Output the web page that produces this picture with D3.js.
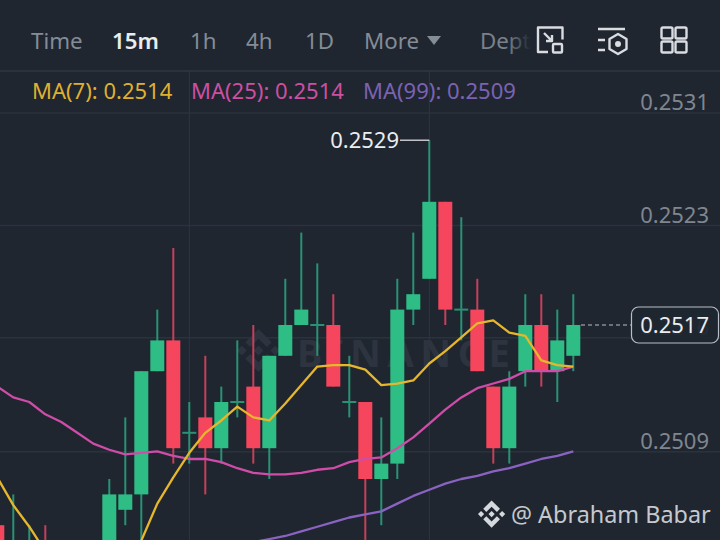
<!DOCTYPE html>
<html>
<head>
<meta charset="utf-8">
<script src="https://cdn.jsdelivr.net/npm/d3@7"></script>
<style>
  html, body { margin: 0; padding: 0; background: #1f2630; }
  svg { display: block; font-family: "Noto Sans", sans-serif; }
</style>
</head>
<body>
<svg id="chart" width="720" height="540"></svg>
<script>
// candles, oldest first; null = off the bottom of the picture
var opens  = [.2504,.2501,.2501,.2502,null,null,null,.2502,.2505,.2506,.2514,.2516,.2510,.2511,.2509,.2512,.2513,.2509,.2515,.2517,.2517,.2517,.2512,.2512,.2507,.2508,.2518,.2520,.2525,.2518,.2518,.2513,.2509,.2514,.2517,.2514,.2515];
var closes = [.2501,.2502,.2502,.2501,null,null,null,.2506,.2506,.2514,.2516,.2509,.2510,.2509,.2512,.2512,.2509,.2515,.2517,.2518,.2517,.2513,.2512,.2507,.2508,.2518,.2519,.2525,.2518,.2518,.2514,.2509,.2513,.2517,.2514,.2516,.2517];
var highs  = [.2504,.2506,.2504,.2504,null,null,null,.2507,.2511,.2514,.2518,.2522,.2512,.2515,.2513,.2516,.2517,.2515,.2520,.2523,.2521,.2519,.2515,.2512,.2511,.2520,.2523,.2529,.2525,.2524,.2520,.2513,.2514,.2519,.2519,.2518,.2519];
var lows   = [.2500,.2500,.2500,.2500,null,null,null,.2500,.2504,.2502,.2514,.2508,.2508,.2506,.2508,.2511,.2508,.2507,.2515,.2517,.2515,.2513,.2511,.2502,.2504,.2507,.2517,.2520,.2517,.2516,.2514,.2508,.2508,.2513,.2513,.2512,.2514];

var ma7  = [.25071,.25053,.25039,.25023,null,null,null,null,.25008,.25030,.25054,.25071,.25087,.25100,.25108,.25117,.25110,.25108,.25119,.25131,.25143,.25144,.25144,.25141,.25131,.25132,.25134,.25145,.25153,.25162,.25171,.25173,.25165,.25163,.25147,.25144,.25143];
var ma25 = [.25130,.25123,.25120,.25112,.25107,.25100,.25093,.25089,.25086,.25087,.25088,.25085,.25083,.25083,.25081,.25077,.25074,.25073,.25073,.25074,.25076,.25077,.25081,.25083,.25084,.25090,.25097,.25106,.25115,.25123,.25129,.25132,.25135,.25140,.25140,.25140,.25143];
var ma99 = [null,null,null,null,null,null,null,null,null,null,null,null,null,null,null,null,.25029,.25031,.25033,.25036,.25039,.25042,.25045,.25047,.25049,.25054,.25059,.25063,.25067,.25070,.25072,.25075,.25077,.25080,.25083,.25085,.25088];

var gridPrices = [.25308,.25235,.25162,.25088];
var gridLabels = ["0.2531","0.2523","0.2516","0.2509"];
var gridCandles = [12,27];
var lastPrice = .2517, maxPrice = .2529, maxIndex = 27;

var tabs = ["Time","15m","1h","4h","1D","More","Dept"];
var legend = [["MA(7): 0.2514","#dfb02f"],["MA(25): 0.2514","#cd4fa2"],["MA(99): 0.2509","#7c62b3"]];

var BG = "#1f2630", GREEN = "#2ebd85", RED = "#f6465d", LOGO = "M38.73 53.2l24.59-24.58 24.6 24.6 14.3-14.31L63.32 0 24.42 38.9zM0 63.31l14.3-14.31 14.31 14.31-14.31 14.3zM38.73 73.41l24.59 24.59 24.6-24.6 14.31 14.29-38.9 38.91-38.91-38.88-.02-.02zM98.01 63.31l14.3-14.31 14.3 14.3-14.3 14.32zM77.83 63.3L63.32 48.78 52.59 59.51l-1.24 1.23-2.54 2.54 14.51 14.5 14.51-14.47z";

var svg = d3.select("#chart");
var x = d3.scaleLinear().domain([0, 36]).range([-2.7, 573.3]);
var y = d3.scaleLinear().domain([.2503, .2529]).range([540.6, 140.2]);

// header
svg.append("line").attr("x1", 0).attr("x2", 720).attr("y1", 71).attr("y2", 71).attr("stroke", "#2b323d").attr("stroke-width", 2);
var defs = svg.append("defs");
var fade = defs.append("linearGradient").attr("id", "fade");
fade.append("stop").attr("offset", "55%").attr("stop-color", "#7a818a");
fade.append("stop").attr("offset", "100%").attr("stop-color", "#7a818a").attr("stop-opacity", 0);
var tabX = [31, 112, 190, 246, 305, 364, 480];
svg.selectAll("text.tab").data(tabs).enter().append("text").attr("class", "tab")
  .attr("x", function (d, i) { return tabX[i]; }).attr("y", 49).attr("font-size", 22.3)
  .attr("font-weight", function (d) { return d === "15m" ? 600 : 400; })
  .attr("fill", function (d) { return d === "15m" ? "#eaecef" : d === "Dept" ? "url(#fade)" : "#848c95"; })
  .text(function (d) { return d; });
svg.append("path").attr("d", "M427 36h14l-7 9z").attr("fill", "#848c95");

// icons
var icons = svg.append("g").attr("fill", "none").attr("stroke", "#d9dce0").attr("stroke-width", 2.4).attr("stroke-linejoin", "round");
icons.append("path").attr("d", "M548 52h-10v-24.500h24.500v12M544 33l8 8M552 35v6h-6");
icons.append("rect").attr("x", 553).attr("y", 44).attr("width", 9).attr("height", 8.500).attr("rx", 1);
icons.append("path").attr("d", "M598 29h27M598 40h7M598 50h7M618 34l8.500 5v10l-8.500 5-8.500-5v-10z");
icons.append("circle").attr("cx", 618).attr("cy", 44).attr("r", 1.800).attr("fill", "#d9dce0");
[[661.500, 27.500], [675.500, 27.500], [661.500, 41.500], [675.500, 41.500]].forEach(function (p) {
  icons.append("rect").attr("x", p[0]).attr("y", p[1]).attr("width", 11).attr("height", 11).attr("rx", 1.500);
});

// grid
var grid = svg.append("g").call(d3.axisLeft(y).tickValues(gridPrices).tickSize(-720).tickFormat(""));
grid.select(".domain").remove();
grid.selectAll("line").attr("stroke", "#2b323d").attr("stroke-width", 1.500);
svg.selectAll("line.vgrid").data(gridCandles).enter().append("line").attr("class", "vgrid")
  .attr("x1", function (d) { return x(d); }).attr("x2", function (d) { return x(d); })
  .attr("y1", 71).attr("y2", 540).attr("stroke", "#2f3641").attr("stroke-width", 1);

// watermark
svg.append("path").attr("d", LOGO).attr("transform", "translate(237,329) scale(.34)").attr("fill", "#2d343f");
svg.append("text").attr("x", 297).attr("y", 367).attr("font-size", 38).attr("font-weight", 700)
  .attr("letter-spacing", 6.5).attr("fill", "#2d343f").text("BINANCE");

// candles
var candles = d3.range(opens.length).filter(function (i) { return opens[i] != null; });
var g = svg.append("g");
g.selectAll("line.wick").data(candles).enter().append("line").attr("class", "wick")
  .attr("x1", function (i) { return x(i); }).attr("x2", function (i) { return x(i); })
  .attr("y1", function (i) { return y(highs[i]); }).attr("y2", function (i) { return y(lows[i]); })
  .attr("stroke", function (i) { return closes[i] >= opens[i] ? "#2a9274" : "#c5405a"; }).attr("stroke-width", 2);
g.selectAll("rect.body").data(candles).enter().append("rect").attr("class", "body")
  .attr("x", function (i) { return x(i) - 7; }).attr("width", 14)
  .attr("y", function (i) { return y(Math.max(opens[i], closes[i])) - (opens[i] === closes[i] ? 1 : 0); })
  .attr("height", function (i) { return Math.max(2, Math.abs(y(opens[i]) - y(closes[i]))); })
  .attr("fill", function (i) { return opens[i] === closes[i] ? "#2a9274" : closes[i] > opens[i] ? GREEN : RED; });

// moving averages
var line = d3.line().defined(function (d) { return d != null; })
  .x(function (d, i) { return x(i); }).y(function (d) { return y(d); });
[[ma99, "#8a63c2"], [ma25, "#cf4ca8"], [ma7, "#e6b62c"]].forEach(function (s) {
  svg.append("path").attr("d", line(s[0])).attr("fill", "none").attr("stroke", s[1])
    .attr("stroke-width", 2.3).attr("stroke-linejoin", "round");
});

// legend
var legendX = [32, 191, 363];
svg.selectAll("text.legend").data(legend).enter().append("text").attr("class", "legend")
  .attr("x", function (d, i) { return legendX[i]; }).attr("y", 99).attr("font-size", 22)
  .attr("fill", function (d) { return d[1]; }).text(function (d) { return d[0]; });

// price labels
svg.selectAll("text.tick-label").data(gridLabels).enter().append("text").attr("class", "tick-label")
  .attr("x", 709).attr("y", function (d, i) { return y(gridPrices[i]) - 2; })
  .attr("text-anchor", "end").attr("font-size", 22).attr("fill", "#7f868f").text(function (d) { return d; });

// highest price marker
svg.append("line").attr("x1", 400).attr("x2", x(maxIndex)).attr("y1", y(maxPrice)).attr("y2", y(maxPrice)).attr("stroke", "#eaecef").attr("stroke-width", 1.200);
svg.append("text").attr("x", 399).attr("y", y(maxPrice) + 8).attr("text-anchor", "end").attr("font-size", 22).attr("fill", "#eaecef").text(maxPrice.toFixed(4));

// last price tag
svg.append("line").attr("x1", 581).attr("x2", 631).attr("y1", y(lastPrice)).attr("y2", y(lastPrice))
  .attr("stroke", "#b7bdc6").attr("stroke-width", 1.200).attr("stroke-dasharray", "4 3");
svg.append("rect").attr("x", 631.500).attr("y", y(lastPrice) - 18).attr("width", 87).attr("height", 36).attr("rx", 7)
  .attr("fill", BG).attr("fill-opacity", .94).attr("stroke", "#b7bdc6").attr("stroke-width", 1.200);
svg.append("text").attr("x", 709).attr("y", y(lastPrice) + 8).attr("text-anchor", "end").attr("font-size", 22).attr("fill", "#eaecef").text(lastPrice.toFixed(4));

// credit
svg.append("path").attr("d", LOGO).attr("transform", "translate(478,500.500) scale(.215)").attr("fill", "#d5d8dc");
svg.append("text").attr("x", 511).attr("y", 523).attr("font-size", 23.4).attr("fill", "#c5c9ce").text("@ Abraham Babar");
</script>
</body>
</html>
